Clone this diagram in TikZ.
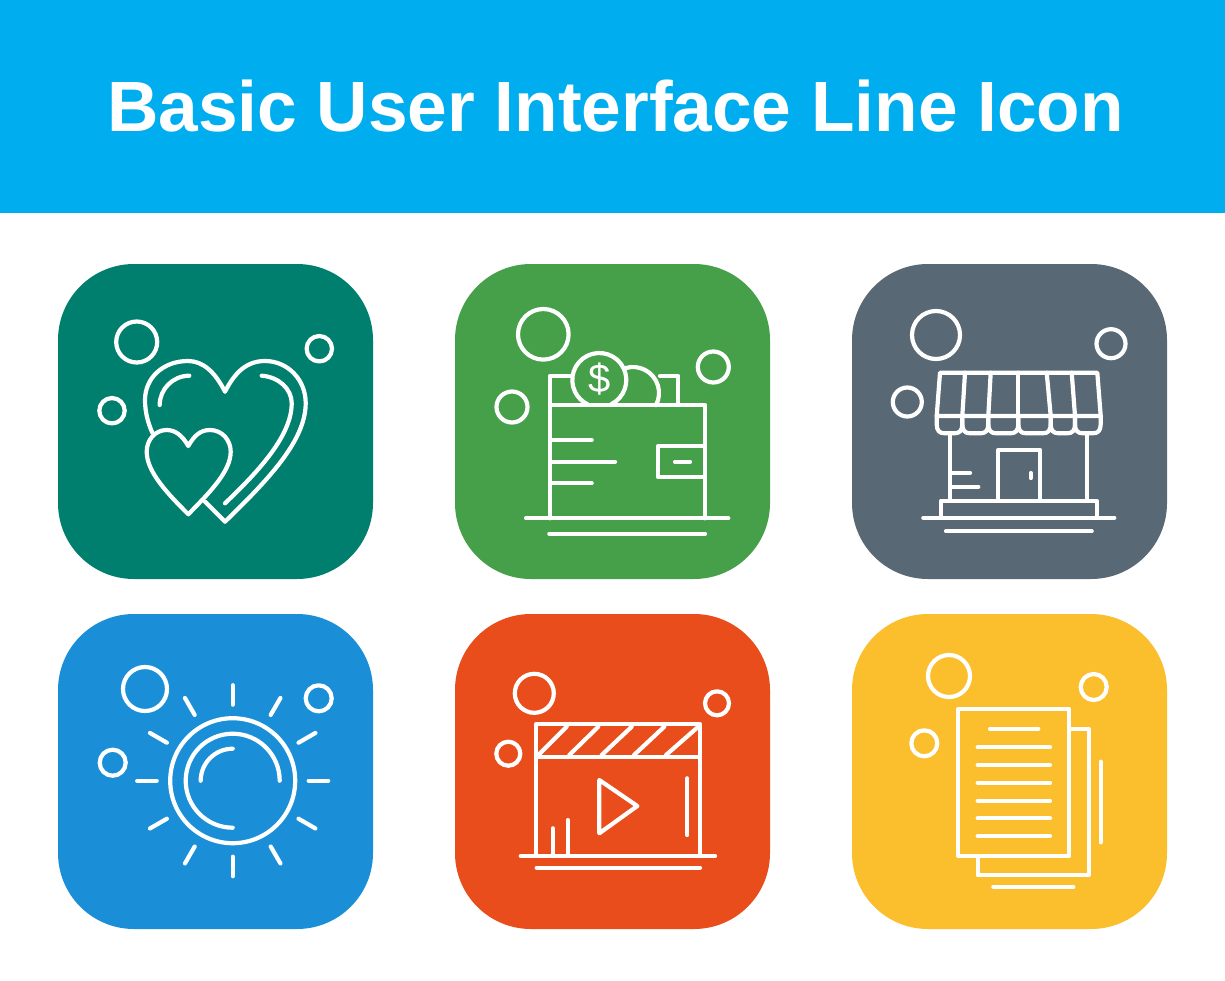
\documentclass[tikz,border=0pt]{standalone}
\usepackage{fontspec}
\setmainfont{Liberation Sans}
\definecolor{hdr}{HTML}{00AEEF}
\definecolor{cteal}{HTML}{007F6E}
\definecolor{cgreen}{HTML}{45A049}
\definecolor{cslate}{HTML}{586874}
\definecolor{cblue}{HTML}{1A8FD8}
\definecolor{corange}{HTML}{E84D1B}
\definecolor{cyellow}{HTML}{FBBE2D}
\tikzset{
  ln/.style={draw=white,line width=4.2pt,line cap=round,line join=round},
  tile/.style={rounded corners=76pt}
}
\begin{document}
\begin{tikzpicture}[x=1pt,y=-1pt]
\useasboundingbox (0,0) rectangle (1225,980);
\fill[white] (0,0) rectangle (1225,980);
\fill[hdr] (0,0) rectangle (1225,213);
\node[anchor=base,text=white,inner sep=0pt,font=\fontsize{71.2}{71}\selectfont\bfseries] (title) at (615.5,131) {Basic User Interface Line Icon};
% tiles
\fill[cteal,tile] (58,264) rectangle (373,579);
\fill[cgreen,tile] (455,264) rectangle (770,579);
\fill[cslate,tile] (852,264) rectangle (1167,579);
\fill[cblue,tile] (58,614) rectangle (373,929);
\fill[corange,tile] (455,614) rectangle (770,929);
\fill[cyellow,tile] (852,614) rectangle (1167,929);
% hearts
\draw[ln] (136.7,342) circle[radius=20.5pt];
\draw[ln] (319.3,348.7) circle[radius=12.7pt];
\draw[ln] (112,410.7) circle[radius=12.7pt];
\draw[ln] (152.3,432.7) .. controls (148,423) and (145,412) .. (145,400) .. controls (145,378) and (163,361) .. (188,361) .. controls (203,361) and (215,372) .. (225,391.7) .. controls (235,372) and (247,361) .. (265,361) .. controls (288,361) and (305.7,380) .. (305.7,403) .. controls (305.7,440) and (270,478) .. (225,521.7) -- (205,501.7);
\draw[ln] (188.3,446) .. controls (182,435) and (175,430) .. (166.7,430) .. controls (155,430) and (146.7,440) .. (146.7,451.7) .. controls (146.7,472) and (168,494) .. (188.3,514.3) .. controls (208,494) and (230.7,472) .. (230.7,451.7) .. controls (230.7,440) and (222,430) .. (210,430) .. controls (200,430) and (194,436) .. (188.3,446) -- cycle;
\draw[ln] (189.3,375.7) .. controls (173,375.7) and (159.7,389) .. (159.7,405);
\draw[ln] (261.7,375.7) .. controls (279,377) and (291.7,389) .. (291.7,403.3) .. controls (291.7,435) and (260,470) .. (225,503.3);
% wallet
\draw[ln] (543.3,334.3) circle[radius=25.3pt];
\draw[ln] (713.3,367) circle[radius=15.5pt];
\draw[ln] (512,407) circle[radius=15.5pt];
\draw[ln] (550,518.3) -- (550,376) -- (571.7,376);
\draw[ln] (660,376) -- (678.3,376) -- (678.3,405);
\draw[ln] (550,405) -- (705,405) -- (705,518.3);
\draw[ln] (526,518.3) -- (728.3,518.3);
\draw[ln] (549.3,533.7) -- (705,533.7);
\draw[ln] (599.3,380) ++(296:27pt) arc[start angle=296,end angle=604,radius=27pt];
\draw[ln] (633,393) ++(107:26pt) arc[start angle=107,end angle=-28,radius=26pt];
\node[text=white,inner sep=0pt,font=\fontsize{40}{40}\selectfont] (dollar) at (599.3,379) {\$};
\draw[ln] (705,445.7) -- (658.3,445.7) -- (658.3,477.3) -- (705,477.3);
\draw[ln] (675,461.7) -- (690,461.7);
\draw[ln] (550,440) -- (591.7,440);
\draw[ln] (550,461.7) -- (615,461.7);
\draw[ln] (550,483.3) -- (591.7,483.3);
% shop
\draw[ln] (936,335) circle[radius=24pt];
\draw[ln] (1111,343.7) circle[radius=14.5pt];
\draw[ln] (907.3,402) circle[radius=14.5pt];
\draw[ln] (936.7,416) -- (940,372.7) -- (1097.3,372.7) -- (1100.7,416) -- cycle;
\draw[ln] (965,372.7) -- (962.3,416);
\draw[ln] (990.7,372.7) -- (988.3,416);
\draw[ln] (1018.3,372.7) -- (1018.3,416);
\draw[ln] (1046.7,372.7) -- (1050.7,416);
\draw[ln] (1071.7,372.7) -- (1075,416);
\foreach \a/\b in {936.7/962.3,962.3/988.3,988.3/1018.3,1018.3/1050.7,1050.7/1075,1075/1100.7}{
  \draw[ln] (\a,416) -- (\a,424) .. controls (\a,430.5) and (\a+2.5,433.3) .. (\a+8,433.3) -- (\b-8,433.3) .. controls (\b-2.5,433.3) and (\b,430.5) .. (\b,424) -- (\b,416);
}
\draw[ln] (950,433.3) -- (950,500.7);
\draw[ln] (1087.3,433.3) -- (1087.3,500.7);
\draw[ln] (998.3,500.7) -- (998.3,450) -- (1040,450) -- (1040,500.7);
\draw[ln] (1030.7,473) -- (1030.7,478);
\draw[ln] (950,472.7) -- (970,472.7);
\draw[ln] (950,486.7) -- (978.3,486.7);
\draw[ln] (941,517.7) -- (941,500.7) -- (1096.7,500.7) -- (1096.7,517.7);
\draw[ln] (923.3,517.7) -- (1114.3,517.7);
\draw[ln] (946,531.3) -- (1091.7,531.3);
% sun
\draw[ln] (145,689) circle[radius=22pt];
\draw[ln] (318.7,698.3) circle[radius=13pt];
\draw[ln] (112.7,762.7) circle[radius=13pt];
\draw[ln] (232.7,780.7) circle[radius=62.5pt];
\draw[ln] (232.7,780.7) ++(0:47pt) arc[start angle=0,end angle=270,radius=47pt];
\draw[ln] (232.7,780.7) ++(90:32pt) arc[start angle=90,end angle=180,radius=32pt];
\foreach \t in {0,30,...,330}{
  \draw[ln] (232.7,780.7) ++(\t:76pt) -- ++(\t:19.5pt);
}
% video
\draw[ln] (534.3,693.3) circle[radius=19.5pt];
\draw[ln] (717,703.3) circle[radius=12pt];
\draw[ln] (508.3,753.7) circle[radius=12pt];
\draw[ln] (536,856) -- (536,724.3) -- (700,724.3) -- (700,856);
\draw[ln] (536,756.7) -- (700,756.7);
\draw[ln] (520.7,856) -- (715,856);
\draw[ln] (536.7,867.7) -- (700,867.7);
\draw[ln] (538.3,755) -- (566.7,726.7);
\draw[ln] (569.3,755) -- (598.3,726.7);
\draw[ln] (601.7,755) -- (631.7,726.7);
\draw[ln] (634,755) -- (664.3,726.7);
\draw[ln] (666,755) -- (698.3,726.7);
\draw[ln] (599.3,780) -- (637.3,806) -- (599.3,833.3) -- cycle;
\draw[ln] (687.3,778.3) -- (687.3,835);
\draw[ln] (552.7,828.3) -- (552.7,856);
\draw[ln] (567.7,820) -- (567.7,856);
% documents
\draw[ln] (949,676) circle[radius=21pt];
\draw[ln] (1093.7,687) circle[radius=13pt];
\draw[ln] (924.3,743.3) circle[radius=13pt];
\draw[ln] (958.3,709) rectangle (1069.3,856);
\draw[ln] (1071.7,728.7) -- (1088.7,728.7) -- (1088.7,875.3) -- (977.7,875.3) -- (977.7,856.7);
\draw[ln] (990,728.7) -- (1038.3,728.7);
\foreach \yy in {747.3,765,782.7,800.7,818.3,836}{
  \draw[ln] (977.7,\yy) -- (1050,\yy);
}
\draw[ln] (1100.7,761.7) -- (1100.7,842.3);
\draw[ln] (993.3,886.7) -- (1073.3,886.7);
\end{tikzpicture}
\end{document}
